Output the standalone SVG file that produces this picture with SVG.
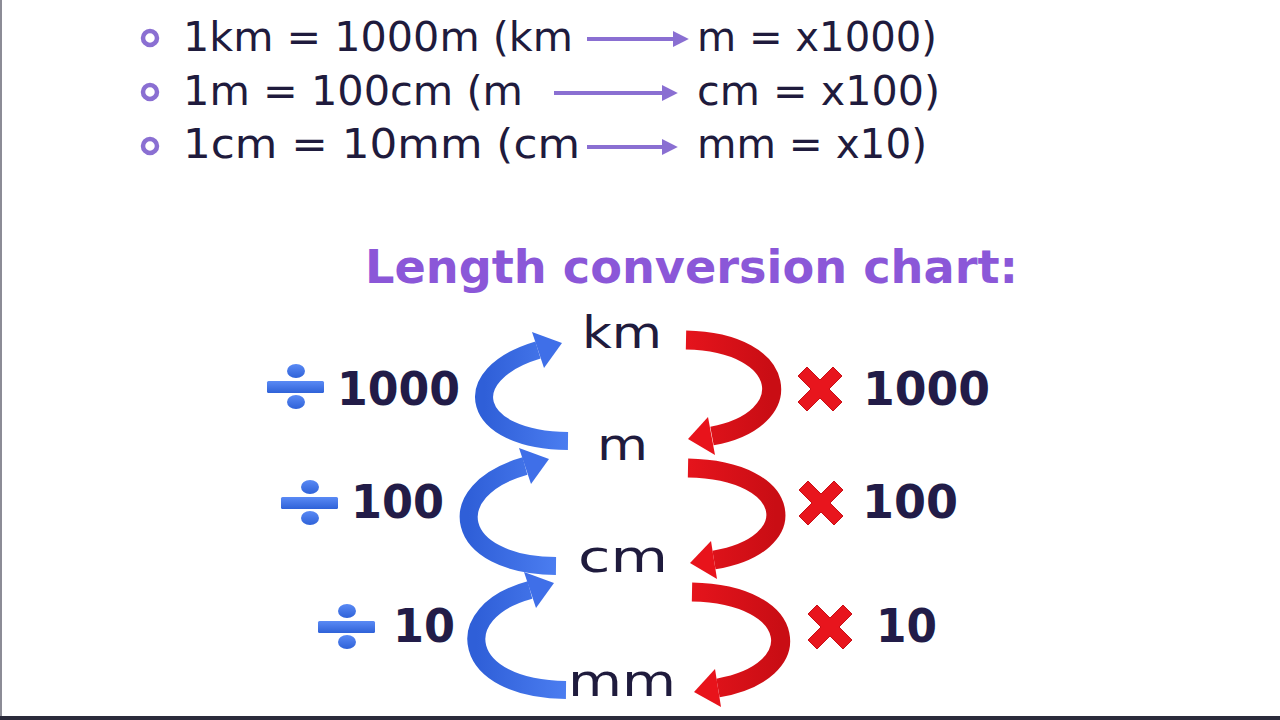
<svg xmlns="http://www.w3.org/2000/svg" width="1280" height="720" viewBox="0 0 1280 720">
  <defs>
    <style>
      .body { font-family: "DejaVu Sans", "Liberation Sans", sans-serif; font-size: 40px; fill: #1f1b3d; }
      .title { font-family: "DejaVu Sans", "Liberation Sans", sans-serif; font-size: 46px; font-weight: bold; fill: #8b57d8; }
      .unit { font-family: "DejaVu Sans", "Liberation Sans", sans-serif; font-size: 44px; fill: #1f1b3d; }
      .num { font-family: "DejaVu Sans", "Liberation Sans", sans-serif; font-size: 46px; font-weight: bold; fill: #221c48; }
      .bullet { fill: none; stroke: #8a6fd2; stroke-width: 4.5; }
      .parrow { stroke: #8a6fd2; stroke-width: 4; fill: none; }
      .blue { stroke: url(#gBlue); stroke-width: 18; fill: none; stroke-linecap: butt; }
      .red { stroke: url(#gRed); stroke-width: 19; fill: none; stroke-linecap: butt; }
      .bluehead { fill: #3f6fe8; }
      .redhead { fill: #e8131b; }
      .div { fill: url(#gDiv); }
      .mul { fill: #e8151d; stroke: #c80f16; stroke-width: 1; }
    </style>
    <linearGradient id="gBlue" x1="0" y1="0" x2="1" y2="0">
      <stop offset="0" stop-color="#2f5fd8"/>
      <stop offset="1" stop-color="#4b7df0"/>
    </linearGradient>
    <linearGradient id="gRed" x1="0" y1="0" x2="1" y2="0">
      <stop offset="0" stop-color="#e5141c"/>
      <stop offset="1" stop-color="#c90d14"/>
    </linearGradient>
    <linearGradient id="gDiv" x1="0" y1="0" x2="0" y2="1">
      <stop offset="0" stop-color="#5a8af5"/>
      <stop offset="1" stop-color="#2f62d8"/>
    </linearGradient>
    <marker id="ph" viewBox="0 0 10 10" refX="2" refY="5" markerWidth="4" markerHeight="4" orient="auto" markerUnits="strokeWidth">
      <path d="M0,0 L10,5 L0,10 Z" fill="#8a6fd2"/>
    </marker>
    <g id="divSym">
      <rect x="0" y="-6" width="57" height="12" rx="1.5" class="div"/>
      <ellipse cx="29" cy="-16" rx="9" ry="7" class="div"/>
      <ellipse cx="29" cy="15" rx="9" ry="7" class="div"/>
    </g>
    <g id="mulSym">
      <path class="mul" d="M-22,-13 L-13,-22 L0,-9 L13,-22 L22,-13 L9,0 L22,13 L13,22 L0,9 L-13,22 L-22,13 L-9,0 Z"/>
    </g>
  </defs>

  <rect x="0" y="0" width="1280" height="720" fill="#ffffff"/>
  <rect x="0" y="0" width="2" height="720" fill="#8c8c96"/>
  <rect x="0" y="716" width="1280" height="4" fill="#2b2b3b"/>

  <g id="facts">
    <circle class="bullet" cx="150" cy="38" r="7"/>
    <text class="body" x="183" y="51" textLength="390" lengthAdjust="spacingAndGlyphs">1km = 1000m (km</text>
    <text class="body" x="697" y="51" textLength="240" lengthAdjust="spacingAndGlyphs">m = x1000)</text>
    <circle class="bullet" cx="150" cy="92" r="7"/>
    <text class="body" x="183" y="105" textLength="340" lengthAdjust="spacingAndGlyphs">1m = 100cm (m</text>
    <text class="body" x="697" y="105" textLength="243" lengthAdjust="spacingAndGlyphs">cm = x100)</text>
    <circle class="bullet" cx="150" cy="146" r="7"/>
    <text class="body" x="183" y="158" textLength="397" lengthAdjust="spacingAndGlyphs">1cm = 10mm (cm</text>
    <text class="body" x="697" y="158" textLength="230" lengthAdjust="spacingAndGlyphs">mm = x10)</text>
    <line class="parrow" x1="587" y1="39" x2="676" y2="39" marker-end="url(#ph)"/>
    <line class="parrow" x1="554" y1="93" x2="665" y2="93" marker-end="url(#ph)"/>
    <line class="parrow" x1="587" y1="147" x2="665" y2="147" marker-end="url(#ph)"/>
  </g>

  <text class="title" x="365" y="283" textLength="653" lengthAdjust="spacingAndGlyphs">Length conversion chart:</text>

  <g id="node-km"><text class="unit" x="582" y="348" textLength="80" lengthAdjust="spacingAndGlyphs">km</text></g>
  <g id="node-m"><text class="unit" x="597" y="460" textLength="51" lengthAdjust="spacingAndGlyphs">m</text></g>
  <g id="node-cm"><text class="unit" x="578" y="572" textLength="90" lengthAdjust="spacingAndGlyphs">cm</text></g>
  <g id="node-mm"><text class="unit" x="568" y="696" textLength="108" lengthAdjust="spacingAndGlyphs">mm</text></g>

  <g id="connectors">
    <path class="blue" d="M 568 441 C 470 440, 455 375, 538 350"/>
    <polygon class="bluehead" points="532,332 544,368 562,343"/>
    <path class="blue" d="M 556 566 C 452 565, 440 490, 525 466"/>
    <polygon class="bluehead" points="519,448 531,484 549,459"/>
    <path class="blue" d="M 566 690 C 460 689, 448 612, 530 590"/>
    <polygon class="bluehead" points="524,572 536,608 554,583"/>

    <path class="red" d="M 686 340 C 790 342, 800 420, 712 436"/>
    <polygon class="redhead" points="715,455 708,417 688,439"/>
    <path class="red" d="M 688 468 C 795 470, 805 545, 714 560"/>
    <polygon class="redhead" points="717,579 711,541 690,563"/>
    <path class="red" d="M 692 592 C 800 594, 810 672, 718 688"/>
    <polygon class="redhead" points="721,707 715,669 694,692"/>
  </g>

  <g id="label-div1000">
    <use href="#divSym" x="267" y="387"/>
    <text class="num" x="337" y="405" textLength="123" lengthAdjust="spacingAndGlyphs">1000</text>
  </g>
  <g id="label-div100">
    <use href="#divSym" x="281" y="503"/>
    <text class="num" x="351" y="518" textLength="93" lengthAdjust="spacingAndGlyphs">100</text>
  </g>
  <g id="label-div10">
    <use href="#divSym" x="318" y="627"/>
    <text class="num" x="393" y="642" textLength="62" lengthAdjust="spacingAndGlyphs">10</text>
  </g>
  <g id="label-mul1000">
    <use href="#mulSym" x="820" y="389"/>
    <text class="num" x="863" y="405" textLength="127" lengthAdjust="spacingAndGlyphs">1000</text>
  </g>
  <g id="label-mul100">
    <use href="#mulSym" x="821" y="503"/>
    <text class="num" x="862" y="518" textLength="96" lengthAdjust="spacingAndGlyphs">100</text>
  </g>
  <g id="label-mul10">
    <use href="#mulSym" x="830" y="627"/>
    <text class="num" x="876" y="642" textLength="61" lengthAdjust="spacingAndGlyphs">10</text>
  </g>
</svg>
